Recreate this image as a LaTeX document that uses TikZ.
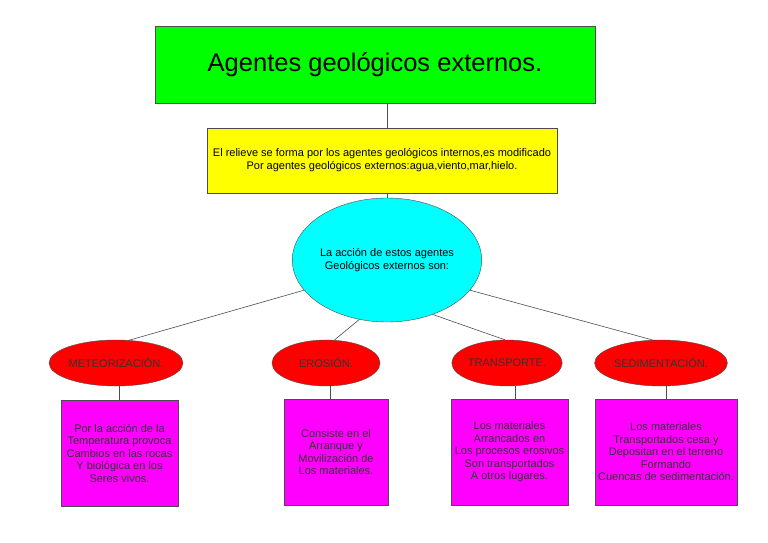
\documentclass[tikz,border=0pt]{standalone}
\usepackage{fontspec}
\setmainfont{Liberation Sans}
\usetikzlibrary{shapes.geometric}
\definecolor{cG}{RGB}{0,255,0}
\definecolor{cY}{RGB}{255,255,0}
\definecolor{cC}{RGB}{0,255,255}
\definecolor{cR}{RGB}{255,0,0}
\definecolor{cM}{RGB}{255,0,255}
\begin{document}
\begin{tikzpicture}[x=1pt,y=-1pt,
 box/.style={draw=black!70,line width=0.6pt,inner sep=0pt,align=center},
 red/.style={ellipse,draw=black!70,fill=cR,minimum width=108pt,minimum height=46pt,inner sep=0pt,font=\fontsize{11}{13}\selectfont,text=black!80},
 mag/.style={box,fill=cM,font=\fontsize{11}{12.5}\selectfont,text=black!80},
 ln/.style={draw=black!70,line width=0.6pt}]
\useasboundingbox (0,0) rectangle (768,543);
\node[box,fill=cG,minimum width=440pt,minimum height=77pt,font=\fontsize{25.5}{30}\selectfont] (t) at (375,64.5) {Agentes geológicos externos.};
\node[box,fill=cY,minimum width=350pt,minimum height=65pt,font=\fontsize{11}{13}\selectfont] (y) at (382,160.5) {El relieve se forma por los agentes geológicos internos,es modificado\\Por agentes geológicos externos:agua,viento,mar,hielo.};
\node[ellipse,draw=black!70,fill=cC,minimum width=154pt,minimum height=124pt,inner sep=0pt,align=center,font=\fontsize{11}{13}\selectfont] (c) at (387,260) {La acción de estos agentes\\Geológicos externos son:};
\node[red] (e1) at (116,363) {METEORIZACIÓN.};
\node[red] (e2) at (326,363) {EROSIÓN.};
\node[red] (e3) at (507,363) {TRANSPORTE.};
\node[red] (e4) at (661,363) {SEDIMENTACIÓN.};
\node[mag,minimum width=117pt,minimum height=106pt] (b1) at (119.5,453) {Por la acción de la\\Temperatura provoca\\Cambios en las rocas\\Y biológica en los\\Seres vivos.};
\node[mag,minimum width=104pt,minimum height=106pt] (b2) at (336,452) {Consiste en el\\Arranque y\\Movilización de\\Los materiales.};
\node[mag,minimum width=117pt,minimum height=106pt] (b3) at (509.5,452) {Los materiales\\Arrancados en\\Los procesos erosivos\\Son transportados\\A otros lugares.};
\node[mag,minimum width=142pt,minimum height=106pt] (b4) at (666,452) {Los materiales\\Transportados cesa  y\\Depositan en el terreno\\Formando\\Cuencas de sedimentación.};
\draw[ln] (t.south -| y.north) ++(5,0) -- ++(0,25);
\draw[ln] (y.south) ++(5,0) -- ++(0,5);
\draw[ln] (c.200) -- (e1.60);
\draw[ln] (c.245) -- (e2.70);
\draw[ln] (c.310) -- (e3.95);
\draw[ln] (c.340) -- (e4.110);
\draw[ln] (e1.south -| b1.north) -- (b1.north);
\draw[ln] (e2.south -| 330,0) -- (330,399);
\draw[ln] (e3.south -| 515,0) -- (515,399);
\draw[ln] (e4.south -| 666,0) -- (b4.north);
\end{tikzpicture}
\end{document}
